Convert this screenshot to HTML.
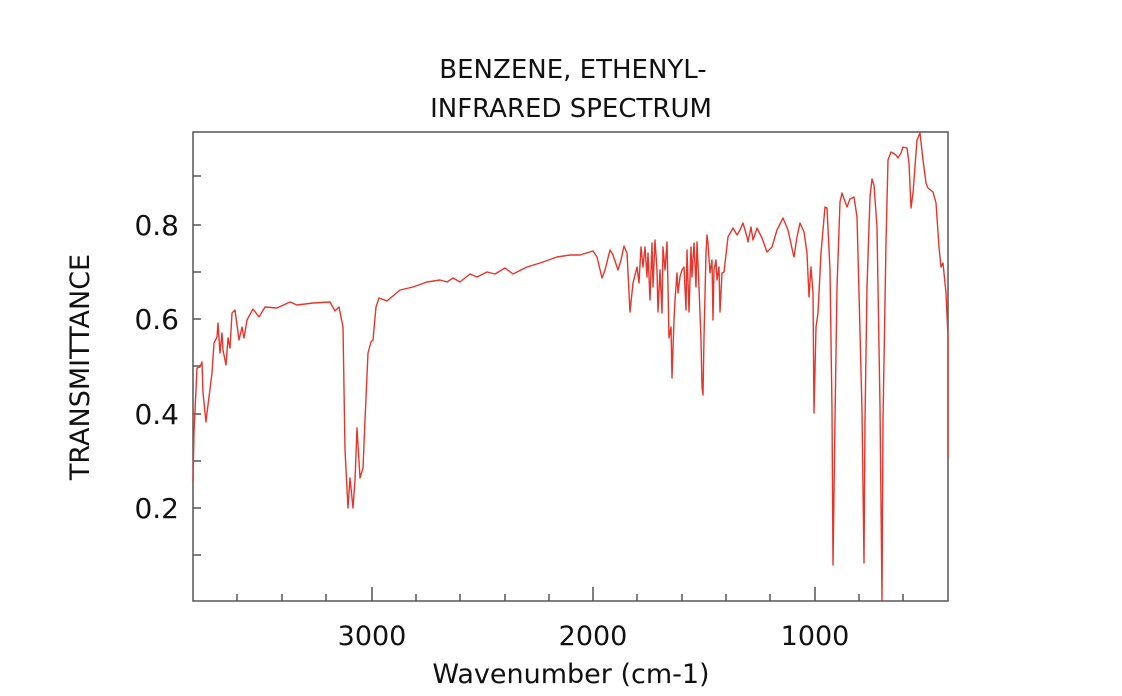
<!DOCTYPE html>
<html><head><meta charset="utf-8"><style>
html,body{margin:0;padding:0;background:#fff;}
svg{display:block;}
text{font-family:"DejaVu Sans","Liberation Sans",sans-serif;fill:#111;}
</style></head><body>
<svg width="1122" height="696" viewBox="0 0 1122 696" xmlns="http://www.w3.org/2000/svg">
<text x="573" y="78" font-size="26" text-anchor="middle">BENZENE, ETHENYL-</text>
<text x="571" y="117" font-size="26" text-anchor="middle">INFRARED SPECTRUM</text>
<g stroke="#555" stroke-width="1.5" fill="none">
<rect x="193" y="132" width="755" height="469"/>
<path d="M193 176h8M193 225h8M193 272h8M193 319h8M193 366h8M193 414h8M193 461h8M193 508h8M193 555h8
M237 601v-7M282 601v-7M326 601v-7M372 601v-14M416 601v-7M460 601v-7M505 601v-7M549 601v-7M593 601v-14M637 601v-7M682 601v-7M726 601v-7M770 601v-7M815 601v-14M859 601v-7M903 601v-7"/>
</g>
<g font-size="28" text-anchor="end">
<text x="179" y="235">0.8</text><text x="179" y="329">0.6</text><text x="179" y="424">0.4</text><text x="179" y="518">0.2</text>
</g>
<g font-size="27" text-anchor="middle">
<text x="372" y="645">3000</text><text x="593" y="645">2000</text><text x="815" y="645">1000</text>
<text x="571" y="683">Wavenumber (cm-1)</text>
</g>
<text transform="translate(89,367) rotate(-90)" font-size="27" text-anchor="middle">TRANSMITTANCE</text>
<polyline fill="none" stroke="#e8352b" stroke-width="1.4" stroke-linejoin="round" points="
193,482 194,432 197,368 200,367 202,362 203,393 206,422 207,413 212,373 214,343 217,337 218,323 220,353 222,333 223,350 226,365 228,338 230,348 232,313 235,310 239,340 242,327 244,338 247,320 253,309 259,317 265,307 277,308 290,302 297,305 313,303 330,302 335,311 339,307 343,327 345,450 348,508 350,478 353,508 355,480 357,428 360,478 363,468 365,420 368,353 371,342 373,340 376,307 379,298 387,301 400,290 413,287 427,282 440,280 447,282 453,278 460,282 470,274 477,277 487,272 495,274 505,268 513,274 527,267 540,263 557,257 570,255 580,255 593,251 597,257 602,278 605,270 610,250 613,255 618,270 621,260 624,246 627,253 630,312 633,283 637,267 639,283 641,247 643,267 645,247 647,277 648,253 650,300 652,243 653,287 655,240 657,270 658,312 660,270 662,313 663,247 665,270 667,242 668,287 669,338 671,327 672,378 674,320 675,300 677,273 678,293 680,277 682,270 684,267 686,310 687,250 689,312 691,247 692,277 694,243 696,287 697,242 699,287 701,340 702,387 703,395 704,337 706,253 707,235 708,243 710,273 712,260 713,320 714,270 716,260 717,280 719,267 720,312 722,273 724,272 728,237 733,228 737,235 740,230 743,223 747,237 748,242 751,227 753,240 757,228 762,238 767,252 772,247 777,230 783,218 788,230 793,253 794,257 797,237 800,223 804,232 807,253 809,297 811,267 813,293 814,413 816,327 818,313 821,253 825,207 827,208 830,270 832,410 833,565 835,420 837,287 840,202 842,193 847,207 850,199 854,197 857,217 859,293 862,410 864,563 865,420 867,287 870,197 872,179 874,185 877,227 880,407 882,600 883,420 886,243 888,160 891,152 893,153 896,155 898,158 901,153 903,147 907,148 909,163 911,208 913,193 917,140 920,133 923,160 926,183 928,188 933,192 936,203 939,247 941,267 943,263 946,293 948,337 948,457"/>
</svg>
</body></html>
